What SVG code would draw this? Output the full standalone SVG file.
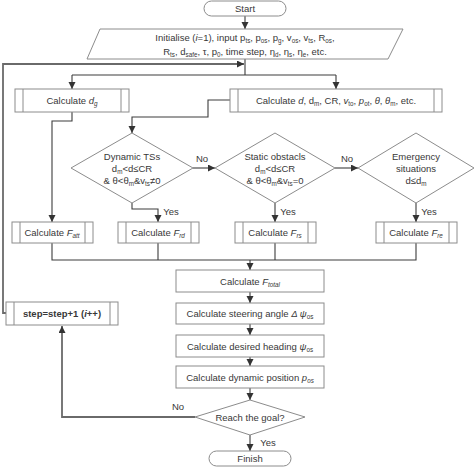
<svg xmlns="http://www.w3.org/2000/svg" width="474" height="467" viewBox="0 0 474 467">
<defs>
<style>
.box{fill:#fff;stroke:#8c8c8c;stroke-width:1}
.ln{fill:none;stroke:#3c3c3c;stroke-width:1.1}
.lp{fill:none;stroke:#6a6a6a;stroke-width:1.8}
.t{font-family:"Liberation Sans",Arial,sans-serif;font-size:9.5px;fill:#383838;text-anchor:middle}
.s{font-size:6.3px}
.i{font-style:italic}
</style>
<marker id="ar" markerUnits="userSpaceOnUse" markerWidth="8" markerHeight="8" refX="7" refY="3.5" orient="auto">
<path d="M0,0 L7,3.5 L0,7 z" fill="#333"/>
</marker>
</defs>
<rect width="474" height="467" fill="#fff"/>

<g id="connectors">
<path class="ln" d="M245,16 V29" marker-end="url(#ar)"/>
<path class="ln" d="M245,59 V75 M72,75 H336"/>
<path class="ln" d="M72,75 V89" marker-end="url(#ar)"/>
<path class="ln" d="M336,75 V89" marker-end="url(#ar)"/>
<path class="ln" d="M72,112 V121 H52 V222" marker-end="url(#ar)"/>
<path class="ln" d="M230,100 H208 V117 H132 V133" marker-end="url(#ar)"/>
<path class="ln" d="M193,168 H215" marker-end="url(#ar)"/>
<path class="ln" d="M335,168 H358" marker-end="url(#ar)"/>
<path class="ln" d="M132,203 V209 H158 V222" marker-end="url(#ar)"/>
<path class="ln" d="M275,203 V222" marker-end="url(#ar)"/>
<path class="ln" d="M416,203 V222" marker-end="url(#ar)"/>
<path class="ln" d="M52,243 V260 H416 V243 M158,243 V260 M275,243 V260"/>
<path class="ln" d="M250,260 V270" marker-end="url(#ar)"/>
<path class="ln" d="M250,292 V303" marker-end="url(#ar)"/>
<path class="ln" d="M250,324 V335" marker-end="url(#ar)"/>
<path class="ln" d="M250,357 V366" marker-end="url(#ar)"/>
<path class="ln" d="M250,388 V400" marker-end="url(#ar)"/>
<path class="ln" d="M250,435 V451" marker-end="url(#ar)"/>
<path class="lp" d="M195,417 H62 V326" marker-end="url(#ar)"/>
<path class="lp" d="M6,313 H3 V64 H244" marker-end="url(#ar)"/>
<text class="t" x="202" y="162">No</text>
<text class="t" x="347" y="162">No</text>
<text class="t" x="171" y="215">Yes</text>
<text class="t" x="288" y="215">Yes</text>
<text class="t" x="429" y="215">Yes</text>
<text class="t" x="178" y="410">No</text>
<text class="t" x="268" y="446">Yes</text>
</g>

<g id="start">
<rect class="box" x="204" y="1" width="82" height="15" rx="7.5" stroke="#333"/>
<text class="t" x="245" y="12">Start</text>
</g>

<g id="init">
<polygon class="box" points="100,29 403,29 388,59 87,59"/>
<text class="t" x="245" y="41">Initialise (<tspan class="i">i</tspan>=1), input p<tspan class="s" dy="2">ts</tspan><tspan dy="-2">, p</tspan><tspan class="s" dy="2">os</tspan><tspan dy="-2">, p</tspan><tspan class="s" dy="2">g</tspan><tspan dy="-2">, v</tspan><tspan class="s" dy="2">os</tspan><tspan dy="-2">, v</tspan><tspan class="s" dy="2">ts</tspan><tspan dy="-2">, R</tspan><tspan class="s" dy="2">os</tspan><tspan dy="-2">,</tspan></text>
<text class="t" x="245" y="55">R<tspan class="s" dy="2">ts</tspan><tspan dy="-2">, d</tspan><tspan class="s" dy="2">safe</tspan><tspan dy="-2">, τ, p</tspan><tspan class="s" dy="2">0</tspan><tspan dy="-2">, time step, η</tspan><tspan class="s" dy="2">d</tspan><tspan dy="-2">, η</tspan><tspan class="s" dy="2">s</tspan><tspan dy="-2">, η</tspan><tspan class="s" dy="2">e</tspan><tspan dy="-2">, etc.</tspan></text>
</g>

<g id="calc-dg">
<rect class="box" x="15" y="89" width="114" height="23"/>
<path class="box" d="M23,89 V112 M121,89 V112"/>
<text class="t" x="72" y="104">Calculate <tspan class="i">d</tspan><tspan class="s i" dy="2">g</tspan></text>
</g>

<g id="calc-d">
<rect class="box" x="230" y="89" width="212" height="23"/>
<path class="box" d="M238,89 V112 M434,89 V112"/>
<text class="t" x="336" y="104">Calculate <tspan class="i">d</tspan>, d<tspan class="s" dy="2">m</tspan><tspan dy="-2">, CR, </tspan><tspan class="i">v</tspan><tspan class="s" dy="2">to</tspan><tspan dy="-2">, </tspan><tspan class="i">p</tspan><tspan class="s" dy="2">ot</tspan><tspan dy="-2">, </tspan><tspan class="i">θ</tspan>, <tspan class="i">θ</tspan><tspan class="s" dy="2">m</tspan><tspan dy="-2">, etc.</tspan></text>
</g>

<g id="dyn-ts">
<polygon class="box" points="132,133 193,168 132,203 71,168"/>
<text class="t" x="132" y="160">Dynamic TSs</text>
<text class="t" x="132" y="172">d<tspan class="s" dy="2">m</tspan><tspan dy="-2">&lt;d≤CR</tspan></text>
<text class="t" x="132" y="184">&amp; θ&lt;θ<tspan class="s" dy="2">m</tspan><tspan dy="-2">&amp;v</tspan><tspan class="s" dy="2">ts</tspan><tspan dy="-2">≠0</tspan></text>
</g>

<g id="static-obs">
<polygon class="box" points="275,133 335,168 275,203 215,168"/>
<text class="t" x="275" y="160">Static obstacls</text>
<text class="t" x="275" y="172">d<tspan class="s" dy="2">m</tspan><tspan dy="-2">&lt;d≤CR</tspan></text>
<text class="t" x="275" y="184">&amp; θ&lt;θ<tspan class="s" dy="2">m</tspan><tspan dy="-2">&amp;v</tspan><tspan class="s" dy="2">ts</tspan><tspan dy="-2">=0</tspan></text>
</g>

<g id="emergency">
<polygon class="box" points="416,133 474,168 416,203 358,168"/>
<text class="t" x="416" y="160">Emergency</text>
<text class="t" x="416" y="172">situations</text>
<text class="t" x="416" y="184">d≤d<tspan class="s" dy="2">m</tspan></text>
</g>

<g id="f-att">
<rect class="box" x="12" y="222" width="81" height="21"/>
<path class="box" d="M20,222 V243 M85,222 V243"/>
<text class="t" x="52" y="236">Calculate <tspan class="i">F</tspan><tspan class="s i" dy="2">att</tspan></text>
</g>

<g id="f-rd">
<rect class="box" x="118" y="222" width="81" height="21"/>
<path class="box" d="M126,222 V243 M191,222 V243"/>
<text class="t" x="158" y="236">Calculate <tspan class="i">F</tspan><tspan class="s i" dy="2">rd</tspan></text>
</g>

<g id="f-rs">
<rect class="box" x="235" y="222" width="81" height="21"/>
<path class="box" d="M243,222 V243 M308,222 V243"/>
<text class="t" x="275" y="236">Calculate <tspan class="i">F</tspan><tspan class="s i" dy="2">rs</tspan></text>
</g>

<g id="f-re">
<rect class="box" x="376" y="222" width="81" height="21"/>
<path class="box" d="M384,222 V243 M449,222 V243"/>
<text class="t" x="416" y="236">Calculate  <tspan class="i">F</tspan><tspan class="s i" dy="2">re</tspan></text>
</g>

<g id="f-total">
<rect class="box" x="176" y="270" width="148" height="22"/>
<text class="t" x="250" y="285">Calculate <tspan class="i">F</tspan><tspan class="s i" dy="2">total</tspan></text>
</g>

<g id="steering">
<rect class="box" x="176" y="303" width="148" height="21"/>
<text class="t" x="250" y="317">Calculate steering angle <tspan class="i">Δ ψ</tspan><tspan class="s" dy="2">os</tspan></text>
</g>

<g id="heading">
<rect class="box" x="176" y="335" width="148" height="22"/>
<text class="t" x="250" y="350">Calculate desired heading <tspan class="i">ψ</tspan><tspan class="s" dy="2">os</tspan></text>
</g>

<g id="position">
<rect class="box" x="176" y="366" width="148" height="22"/>
<text class="t" x="250" y="381">Calculate dynamic position <tspan class="i">p</tspan><tspan class="s i" dy="2">os</tspan></text>
</g>

<g id="goal">
<polygon class="box" points="250,400 305,417 250,435 195,417"/>
<text class="t" x="250" y="421">Reach the goal?</text>
</g>

<g id="finish">
<rect class="box" x="209" y="451" width="82" height="15" rx="7.5" stroke="#333"/>
<text class="t" x="250" y="462">Finish</text>
</g>

<g id="step">
<rect class="box" x="6" y="302" width="112" height="23"/>
<path class="box" d="M14,302 V325 M110,302 V325"/>
<text class="t" x="62" y="317" font-weight="bold" font-size="9">step=step+1 (<tspan class="i">i</tspan>++)</text>
</g>
</svg>
